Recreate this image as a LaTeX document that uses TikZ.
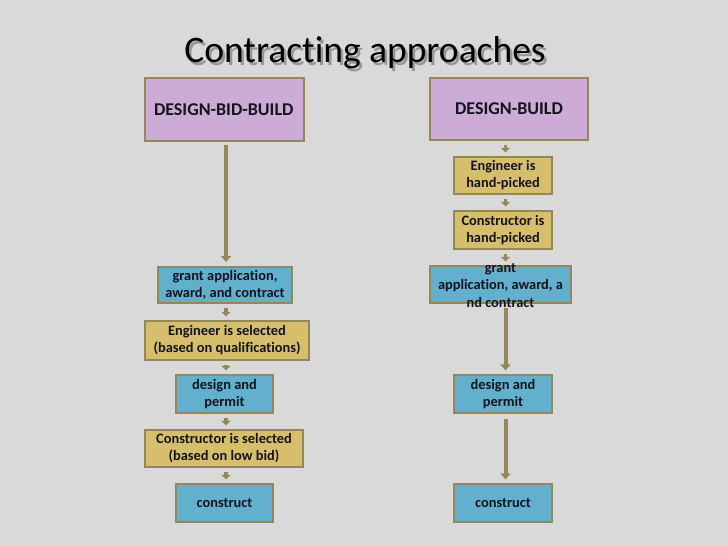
\documentclass[tikz,border=0pt]{standalone}
\usepackage{fontspec}
\setmainfont[Ligatures=NoCommon]{Carlito}
\usetikzlibrary{arrows.meta}
\definecolor{bg}{RGB}{217,217,217}
\definecolor{edge}{RGB}{148,136,88}
\definecolor{lilac}{RGB}{204,172,214}
\definecolor{gold}{RGB}{214,190,108}
\definecolor{sky}{RGB}{98,176,206}
\definecolor{ink}{RGB}{20,20,30}
\tikzset{
  box/.style={draw=edge, line width=2.2pt, rectangle, inner sep=0pt, align=center,
    font=\fontsize{14.4}{17}\selectfont\bfseries, text=ink},
  headbox/.style={box, fill=lilac, font=\fontsize{18}{21}\selectfont\bfseries},
  goldbox/.style={box, fill=gold},
  bluebox/.style={box, fill=sky},
  titletext/.style={font=\fontsize{37.5}{40}\selectfont, anchor=base, inner sep=0pt},
  shadowtext/.style={titletext, text=black, opacity=0.3},
  flow/.style={draw=edge, line width=4pt, -{Triangle[width=10pt,length=6pt]}},
  shortflow/.style={draw=edge, line width=3.5pt, -{Triangle[width=9pt,length=4.5pt]}},
}
\begin{document}
\begin{tikzpicture}[x=1pt,y=-1pt]
\fill[bg] (0,0) rectangle (728,546);
\useasboundingbox (0,0) rectangle (728,546);
% title with shadow
\node[shadowtext] (tsh) at (367.5,65) {Contracting approaches};
\node[titletext, text=black] (title) at (365,62) {Contracting approaches};
% left column
\node[headbox, minimum width=159pt, minimum height=63pt, text width=141pt, align=left] (dbb) at (224.5,109.5) {\mbox{DESIGN-BID-BUILD}};
\node[bluebox, minimum width=134pt, minimum height=36pt] (ga1) at (225,285) {grant application,\\award, and contract};
\node[goldbox, minimum width=164pt, minimum height=39pt] (es) at (227,340.5) {Engineer is selected\\(based on qualifications)};
\node[bluebox, minimum width=97pt, minimum height=38pt] (dp1) at (224.5,394) {design and\\permit};
\node[goldbox, minimum width=158pt, minimum height=37pt] (cs) at (224,448.5) {Constructor is selected\\(based on low bid)};
\node[bluebox, minimum width=97pt, minimum height=38pt] (co1) at (224.5,503) {construct};
% right column
\node[headbox, minimum width=158pt, minimum height=62pt] (db) at (509,109) {DESIGN-BUILD};
\node[goldbox, minimum width=98pt, minimum height=37pt] (eh) at (503,175.5) {Engineer is\\hand-picked};
\node[goldbox, minimum width=98pt, minimum height=38pt] (ch) at (503,230) {Constructor is\\hand-picked};
\node[bluebox, minimum width=141pt, minimum height=37pt] (ga2) at (500.5,284.5) {};
\node[font=\fontsize{14.4}{17.3}\selectfont\bfseries, text=ink, align=center, inner sep=0pt] (ga2t) at (500.5,285.5) {grant\\application, award, a\\nd contract};
\node[bluebox, minimum width=98pt, minimum height=38pt] (dp2) at (503,394) {design and\\permit};
\node[bluebox, minimum width=98pt, minimum height=38pt] (co2) at (503,503) {construct};
% connectors left
\coordinate (lx) at (226,0);
\coordinate (l1) at (226,145);
\coordinate (l2) at (226,262);
\draw[flow] (l1) -- (l2);
\draw[shortflow] ([yshift=-4pt]lx |- ga1.south) -- ([yshift=3.5pt]lx |- es.north);
\draw[shortflow] ([yshift=-4pt]lx |- es.south) -- ([yshift=3.5pt]lx |- dp1.north);
\draw[shortflow] ([yshift=-4pt]lx |- dp1.south) -- ([yshift=3.5pt]lx |- cs.north);
\draw[shortflow] ([yshift=-4pt]lx |- cs.south) -- ([yshift=3.5pt]lx |- co1.north);
% connectors right
\coordinate (rx) at (505.5,0);
\draw[shortflow] ([yshift=-4pt]rx |- db.south) -- ([yshift=3.5pt]rx |- eh.north);
\draw[shortflow] ([yshift=-4pt]rx |- eh.south) -- ([yshift=3.5pt]rx |- ch.north);
\draw[shortflow] ([yshift=-4pt]rx |- ch.south) -- ([yshift=3.5pt]rx |- ga2.north);
\draw[flow] ([yshift=-4pt]rx |- ga2.south) -- ([yshift=3.5pt]rx |- dp2.north);
\draw[flow] ([yshift=-5pt]rx |- dp2.south) -- ([yshift=3.5pt]rx |- co2.north);
\end{tikzpicture}
\end{document}
